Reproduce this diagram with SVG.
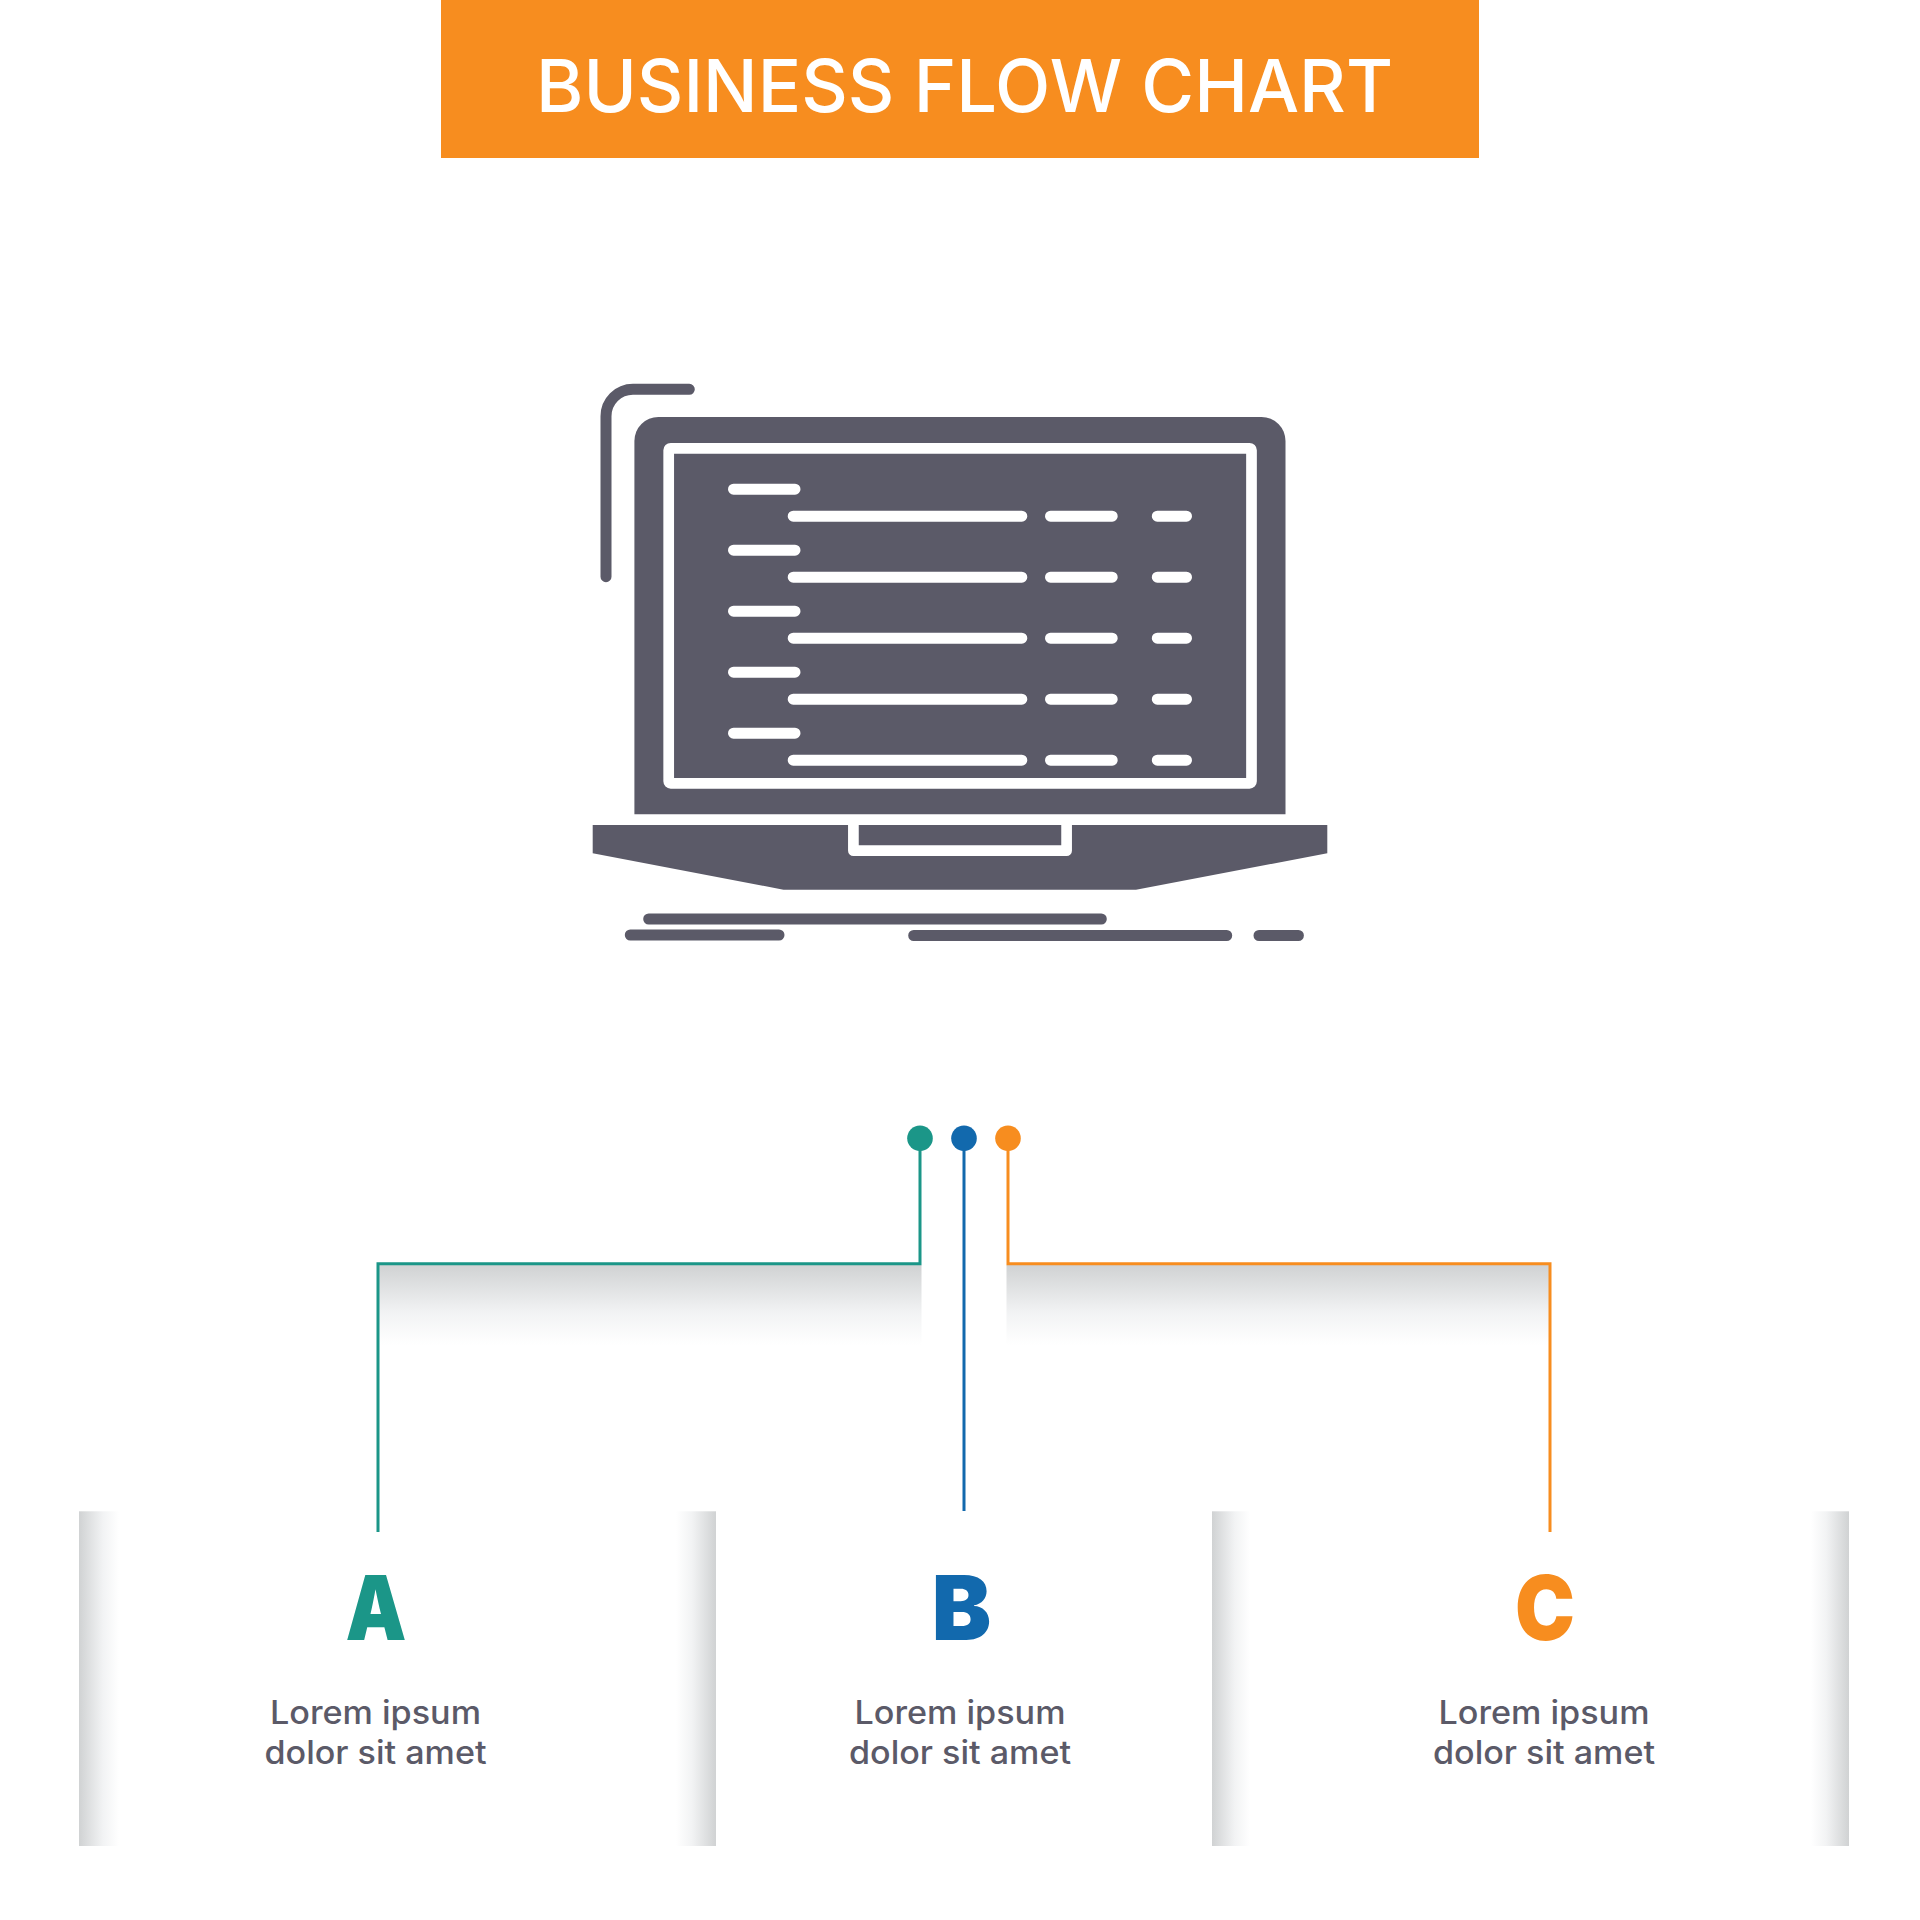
<svg xmlns="http://www.w3.org/2000/svg" width="1920" height="1920" viewBox="0 0 1920 1920">
<style>
.ink{fill:#5b5a68}
.bar{stroke:#fff;stroke-width:11;stroke-linecap:round;fill:none}
.dark{stroke:#5b5a68;stroke-width:11;stroke-linecap:round;fill:none}
.wire{fill:none;stroke-width:3}
.body{font-family:"Inter","Open Sans",sans-serif;font-size:32px;font-weight:500;fill:#5b5a68;text-anchor:middle}
.letter{font-family:"Inter","Liberation Sans",sans-serif;font-size:89px;font-weight:900;text-anchor:middle}
</style>
<defs>
<linearGradient id="down" x1="0" y1="0" x2="0" y2="1"><stop offset="0" stop-color="#d0d2d3"/><stop offset="0.6" stop-color="#f2f3f4"/><stop offset="1" stop-color="#fff"/></linearGradient>
<linearGradient id="lr" x1="0" y1="0" x2="1" y2="0"><stop offset="0" stop-color="#d0d2d3"/><stop offset="0.6" stop-color="#f2f3f4"/><stop offset="1" stop-color="#fff"/></linearGradient>
<linearGradient id="rl" x1="1" y1="0" x2="0" y2="0"><stop offset="0" stop-color="#d0d2d3"/><stop offset="0.6" stop-color="#f2f3f4"/><stop offset="1" stop-color="#fff"/></linearGradient>
</defs>
<rect width="1920" height="1920" fill="#fff"/>
<g id="header">
<rect x="441" y="0" width="1038" height="158" fill="#f78d1f"/>
<text x="964.5" y="112" font-family="Inter,'Open Sans',sans-serif" font-size="73" font-weight="500" fill="#fff" text-anchor="middle" textLength="857" lengthAdjust="spacingAndGlyphs">BUSINESS FLOW CHART</text>
</g>
<g id="laptop">
<path class="dark" d="M606 576.7V416.3a27 27 0 0 1 27-27H689.3"/>
<path class="ink" d="M634.4 814.3V441a24 24 0 0 1 24-24H1261.5a24 24 0 0 1 24 24V814.3Z"/>
<rect x="668.7" y="448.3" width="582.8" height="335" rx="2" fill="none" stroke="#fff" stroke-width="10.7"/>
<g class="bar">
<path d="M733.5 489.2H795M793.2 516.2H1021.8M1050.5 516.2H1112.2M1157.3 516.2H1186.5"/>
<path d="M733.5 550.2H795M793.2 577.2H1021.8M1050.5 577.2H1112.2M1157.3 577.2H1186.5"/>
<path d="M733.5 611.2H795M793.2 638.2H1021.8M1050.5 638.2H1112.2M1157.3 638.2H1186.5"/>
<path d="M733.5 672.2H795M793.2 699.2H1021.8M1050.5 699.2H1112.2M1157.3 699.2H1186.5"/>
<path d="M733.5 733.2H795M793.2 760.2H1021.8M1050.5 760.2H1112.2M1157.3 760.2H1186.5"/>
</g>
<path class="ink" d="M592.7 825H1327.3V853.3L1136 889.7H783.5L592.7 853.3Z"/>
<path d="M853.4 825V850.7H1066.6V825" fill="none" stroke="#fff" stroke-width="10.7" stroke-linejoin="round"/>
<path class="dark" d="M648.7 919H1101.3M630.3 935H779M913.7 935.5H1226.7M1259 935.5H1298.4"/>
</g>
<g id="shades">
<rect x="378" y="1265" width="543.5" height="80" fill="url(#down)"/>
<rect x="1006.5" y="1265" width="543.5" height="80" fill="url(#down)"/>
</g>
<g id="connectors">
<path class="wire" stroke="#1b9688" d="M920 1138V1263.7H378V1532"/>
<path class="wire" stroke="#1269ad" d="M964 1138V1511"/>
<path class="wire" stroke="#f78d1f" d="M1008 1138V1263.7H1550V1532"/>
</g>
<g id="dot-a"><circle cx="920" cy="1138.3" r="12.8" fill="#1b9688"/></g>
<g id="dot-b"><circle cx="964" cy="1138.3" r="12.8" fill="#1269ad"/></g>
<g id="dot-c"><circle cx="1008" cy="1138.3" r="12.8" fill="#f78d1f"/></g>
<g id="node-a">
<rect x="79" y="1511.3" width="40" height="334.7" fill="url(#lr)"/>
<rect x="676" y="1511.3" width="40" height="334.7" fill="url(#rl)"/>
<text class="letter" x="376" y="1640" fill="#1b9688" textLength="61" lengthAdjust="spacingAndGlyphs">A</text>
<text class="body" x="375.5" y="1724" textLength="211" lengthAdjust="spacingAndGlyphs">Lorem ipsum</text>
<text class="body" x="375.5" y="1764" textLength="222" lengthAdjust="spacingAndGlyphs">dolor sit amet</text>
</g>
<g id="node-b">
<text class="letter" x="961.5" y="1640" fill="#1269ad">B</text>
<text class="body" x="960" y="1724" textLength="211" lengthAdjust="spacingAndGlyphs">Lorem ipsum</text>
<text class="body" x="960" y="1764" textLength="222" lengthAdjust="spacingAndGlyphs">dolor sit amet</text>
</g>
<g id="node-c">
<rect x="1212" y="1511.3" width="38" height="334.7" fill="url(#lr)"/>
<rect x="1811" y="1511.3" width="38" height="334.7" fill="url(#rl)"/>
<text class="letter" x="1545" y="1640" fill="#f78d1f" textLength="60" lengthAdjust="spacingAndGlyphs">C</text>
<text class="body" x="1544" y="1724" textLength="211" lengthAdjust="spacingAndGlyphs">Lorem ipsum</text>
<text class="body" x="1544" y="1764" textLength="222" lengthAdjust="spacingAndGlyphs">dolor sit amet</text>
</g>
</svg>
